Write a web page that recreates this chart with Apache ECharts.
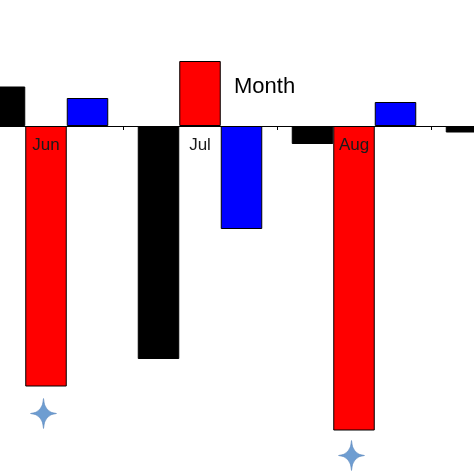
<!DOCTYPE html>
<html>
<head>
<meta charset="utf-8">
<script src="https://cdn.jsdelivr.net/npm/echarts@6/dist/echarts.min.js"></script>
<style>
  html, body { margin: 0; padding: 0; background: #fff; }
  #main { width: 474px; height: 474px; }
</style>
</head>
<body>
<div id="main"></div>
<script>
// categories and values
const months = ['Jun', 'Jul', 'Aug', 'Sep'];
const blackVals = [39.5, -233, -18, -6.5];
const redVals = [-260.5, 65, -304.5, null];
const blueVals = [28, -103, 24, null];
// star markers under the red bars
const starPoints = [['Jun', -287.5], ['Aug', -329.5]];

const starPath = 'path://M0,-15 Q0.8,-0.8 13,0 Q0.8,0.8 0,15 Q-0.8,0.8 -13,0 Q-0.8,-0.8 0,-15 Z';

let myChart = echarts.init(document.getElementById('main'));

const barBase = {
  type: 'bar',
  barWidth: 41.5,
  barGap: '0%'
};

let option = {
  animation: false,
  grid: { left: -31, right: -111, top: 26, bottom: 8, outerBoundsMode: 'none', containLabel: false },
  xAxis: {
    type: 'category',
    data: months,
    z: 10,
    axisLine: { onZero: false, lineStyle: { color: '#000', width: 1 } },
    // move the axis up from the grid bottom to the zero line
    offset: -340,
    axisTick: { show: true, inside: false, length: 4, lineStyle: { color: '#000' } },
    axisLabel: {
      margin: 11,
      color: '#1a1a1a',
      fontFamily: 'Liberation Sans',
      fontSize: 17
    },
    splitLine: { show: false }
  },
  yAxis: {
    type: 'value',
    min: -340,
    max: 100,
    show: false
  },
  graphic: [{
    type: 'text',
    left: 234,
    top: 76,
    style: { text: 'Month', fontFamily: 'Liberation Sans', fontSize: 22, fill: '#000' }
  }],
  series: [
    Object.assign({}, barBase, { name: 'A', data: blackVals, itemStyle: { color: '#000', borderColor: '#000', borderWidth: 1 } }),
    Object.assign({}, barBase, { name: 'B', data: redVals, itemStyle: { color: '#ff0000', borderColor: '#000', borderWidth: 1 } }),
    Object.assign({}, barBase, { name: 'C', data: blueVals, itemStyle: { color: '#0000ff', borderColor: '#000', borderWidth: 1 } }),
    {
      type: 'scatter',
      data: starPoints,
      symbol: starPath,
      symbolSize: [26, 30],
      symbolOffset: [-2.5, 0],
      itemStyle: { color: '#4a84c6', borderColor: '#3a6fae', borderWidth: 0.6 },
      z: 5
    }
  ]
};

myChart.setOption(option);
</script>
</body>
</html>
